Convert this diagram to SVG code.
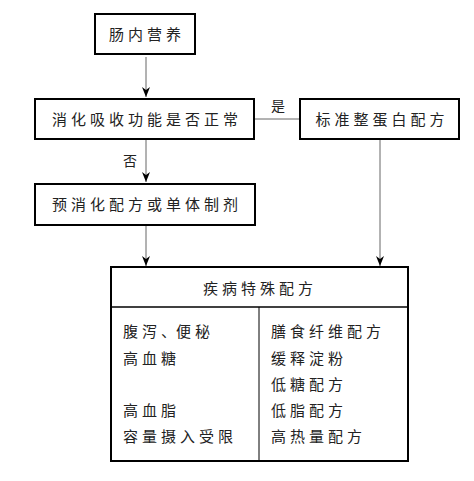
<svg xmlns="http://www.w3.org/2000/svg" width="474" height="481" viewBox="0 0 474 481">
<style>
.box{fill:#fff;stroke:#000;stroke-width:2}
.ln{stroke:#666;stroke-width:1;fill:none}
.t{font-family:"Noto Sans CJK SC","Liberation Serif",serif;font-size:15px;fill:#222;letter-spacing:4px}
.c{text-anchor:middle}
.s{font-family:"Noto Sans CJK SC","Liberation Serif",serif;font-size:14px;fill:#222}
</style>
<defs>
<marker id="ah" viewBox="0 0 10 8" refX="10" refY="4" markerWidth="10" markerHeight="8" markerUnits="userSpaceOnUse" orient="auto">
<path d="M0,0 L10,4 L0,8 L3,4 Z" fill="#000"/>
</marker>
</defs>
<g id="connectors">
<line class="ln" x1="146" y1="57" x2="146" y2="97" marker-end="url(#ah)"/>
<line class="ln" x1="255" y1="119" x2="300" y2="119"/>
<line class="ln" x1="146" y1="140" x2="146" y2="182" marker-end="url(#ah)"/>
<line class="ln" x1="146" y1="226" x2="146" y2="266" marker-end="url(#ah)"/>
<line class="ln" x1="380" y1="140" x2="380" y2="266" marker-end="url(#ah)"/>
<text class="s" x="278" y="111" text-anchor="middle">是</text>
<text class="s" x="130" y="166" text-anchor="middle">否</text>
</g>
<g id="n1">
<rect class="box" x="95" y="14" width="100" height="40"/>
<text class="t c" x="147" y="40">肠内营养</text>
</g>
<g id="n2">
<rect class="box" x="35" y="99" width="219" height="40"/>
<text class="t c" x="147" y="125">消化吸收功能是否正常</text>
</g>
<g id="n3">
<rect class="box" x="300" y="99" width="159" height="40"/>
<text class="t c" x="382" y="125">标准整蛋白配方</text>
</g>
<g id="n4">
<rect class="box" x="35" y="184" width="220" height="41"/>
<text class="t c" x="147" y="210">预消化配方或单体制剂</text>
</g>
<g id="n5">
<rect class="box" x="111" y="267" width="297" height="194"/>
<line x1="111" y1="307" x2="408" y2="307" stroke="#000" stroke-width="1.5"/>
<line x1="259" y1="307" x2="259" y2="461" stroke="#000" stroke-width="1"/>
<text class="t c" x="260" y="294">疾病特殊配方</text>
<text class="t" x="123" y="337">腹泻<tspan letter-spacing="0">、</tspan>便秘</text>
<text class="t" x="123" y="364">高血糖</text>
<text class="t" x="123" y="416">高血脂</text>
<text class="t" x="123" y="442">容量摄入受限</text>
<text class="t" x="271" y="337">膳食纤维配方</text>
<text class="t" x="271" y="364">缓释淀粉</text>
<text class="t" x="271" y="390">低糖配方</text>
<text class="t" x="271" y="416">低脂配方</text>
<text class="t" x="271" y="442">高热量配方</text>
</g>
</svg>
